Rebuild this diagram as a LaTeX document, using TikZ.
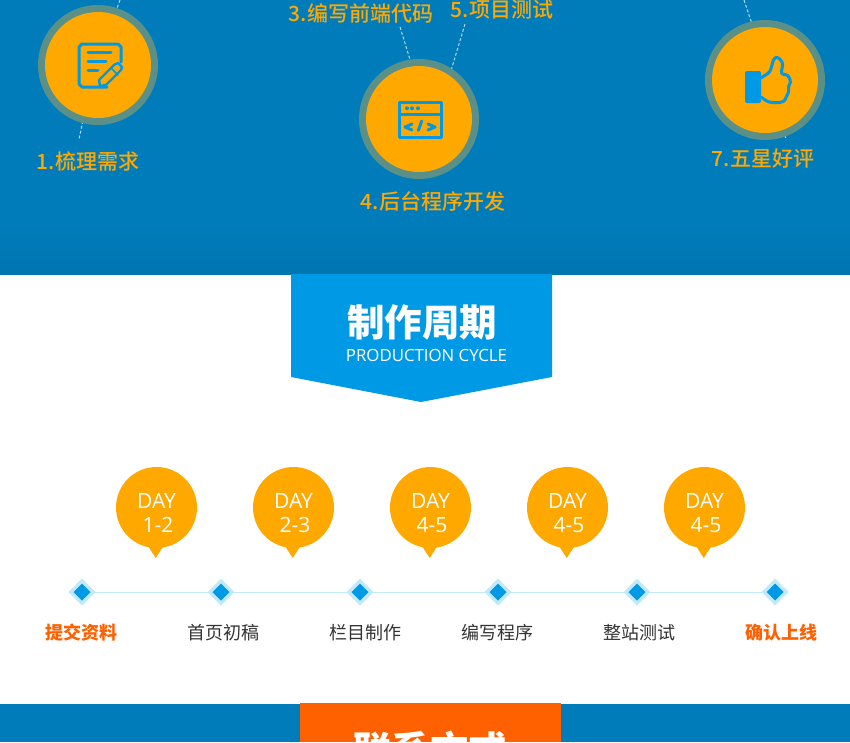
\documentclass[tikz,border=0pt]{standalone}
\usepackage{fontspec}
\setmainfont{Noto Sans CJK SC}
\newfontfamily\latinfont{Open Sans}
\newfontfamily\mediumfont{Noto Sans CJK SC Medium}
\usetikzlibrary{calc}

\definecolor{bandblue}{HTML}{007CBA}
\definecolor{banddark}{HTML}{0076B0}
\definecolor{skyblue}{HTML}{0099E5}
\definecolor{amber}{HTML}{FFA800}
\definecolor{ringgray}{HTML}{5A9088}
\definecolor{paleblue}{HTML}{C0EAFB}
\definecolor{deeporange}{HTML}{FF6000}

\tikzset{
    steplabel/.style={text=amber, font=\mediumfont\fontsize{21}{21}\selectfont},
    guide/.style={white!70!bandblue, densely dashed, line width=1pt},
    icon/.style={skyblue, line width=3pt, line cap=round, line join=round},
    daytext/.style={text=white, font=\latinfont\fontsize{21}{21}\selectfont},
    tasklabel/.style={text=black!80, font=\fontsize{18}{18}\selectfont},
    tasklabelbold/.style={text=deeporange, font=\bfseries\fontsize{18}{18}\selectfont}
}

\begin{document}
\begin{tikzpicture}[x=1pt,y=-1pt]
    \useasboundingbox (0,0) rectangle (850,742);
    \clip (0,0) rectangle (850,742);

    % Coordinates of the circles
    \coordinate (C1) at (98,65);
    \coordinate (C4) at (419,119);
    \coordinate (C7) at (765,80);

    % Bands
    \fill[white] (0,0) rectangle (850,742);
    \fill[bandblue] (0,0) rectangle (850,225);
    \shade[top color=bandblue, bottom color=banddark] (0,225) rectangle (850,274);
    \fill[bandblue] (0,704) rectangle (850,742);

    % Dashed guides
    \coordinate (G1a) at (120,0);
    \coordinate (G1b) at (115,14);
    \coordinate (G1c) at (84,116);
    \coordinate (G1d) at (79,139);
    \coordinate (G3a) at (400,27);
    \coordinate (G3b) at (412,66);
    \coordinate (G5a) at (465,24);
    \coordinate (G5b) at (450,74);
    \coordinate (G7a) at (744,0);
    \coordinate (G7b) at (753,27);
    \coordinate (G7c) at (784,130);
    \coordinate (G7d) at (786,140);
    \draw[guide] (G1a) -- (G1b);
    \draw[guide] (G1c) -- (G1d);
    \draw[guide] (G3a) -- (G3b);
    \draw[guide] (G5a) -- (G5b);
    \draw[guide] (G7a) -- (G7b);
    \draw[guide] (G7c) -- (G7d);

    % Circles
    \foreach \c in {C1,C4,C7} {
        \fill[ringgray] (\c) circle (60);
        \fill[amber] (\c) circle (53);
    }

    % Icon: sheet and pencil
    \draw[icon] (107,87) -- (82,87) -- (79,84) -- (79,47) -- (82,44) -- (118,44) -- (121,47) -- (121,62);
    \draw[icon] (88,52) -- (111,52);
    \draw[icon] (88,61) -- (106,61);
    \draw[icon] (88,70) -- (98,70);
    \draw[icon, line width=2.4pt] (100,86) -- (99,80) -- (114,65) -- (118,63) -- (122,67) -- (121,70) -- (106,85) -- cycle;
    \draw[icon, line width=1.6pt] (111,68) -- (118,75);

    % Icon: browser window
    \draw[icon, line cap=butt] (399.5,102.5) rectangle (441,137);
    \draw[icon, line cap=butt] (399.5,114.5) -- (441,114.5);
    \foreach \x in {407,412,418} {
        \fill[skyblue] (\x,108.3) circle (2);
    }
    \draw[icon] (412,124) -- (405,127) -- (412,130);
    \draw[icon] (421.7,121) -- (418.3,130.5);
    \draw[icon] (428,124) -- (435,127) -- (428,130);

    % Icon: thumb
    \fill[skyblue, rounded corners=2pt] (745,71) rectangle (761,103);
    \draw[icon, rounded corners=2.5pt] (761,78) -- (770,72) -- (774,58) -- (778,57) -- (783,63) -- (781,74)
        -- (788,75) -- (791,82) -- (788,87) -- (789,92) -- (786,97) -- (785,101) -- (778,103) -- (768,102) -- (761,97);

    % Step labels
    \node[steplabel] (step1) at (88,161) {1.梳理需求};
    \node[steplabel] (step3) at (361,13) {3.编写前端代码};
    \node[steplabel] (step5) at (502,10) {5.项目测试};
    \node[steplabel] (step4) at (433,201) {4.后台程序开发};
    \node[steplabel] (step7) at (763,159) {7.五星好评};

    % Title banner
    \fill[skyblue] (291,274) -- (552,274) -- (552,377) -- (421,402) -- (291,377) -- cycle;
    \node[text=white, font=\bfseries\fontsize{37.5}{37.5}\selectfont] (title) at (422,322) {制作周期};
    \node[text=white, font=\latinfont\fontsize{16.8}{16.8}\selectfont] (subtitle) at (426.5,355) {PRODUCTION CYCLE};

    % Day bubbles
    \foreach \x/\d in {156.5/1-2,293.5/2-3,430.5/4-5,567.5/4-5,704.5/4-5} {
        \fill[amber] (\x,507.5) circle (40.5);
        \fill[amber] (\x-8.5,546) -- (\x+7,546) -- (\x-0.8,558) -- cycle;
        \node[daytext] at (\x,501) {DAY};
        \node[daytext] at (\x+1.5,525) {\d};
    }

    % Time line
    \coordinate (T1) at (82,592);
    \coordinate (T2) at (221,592);
    \coordinate (T3) at (360,592);
    \coordinate (T4) at (498,592);
    \coordinate (T5) at (637,592);
    \coordinate (T6) at (775,592);
    \draw[paleblue, line width=1pt] (T1) -- (T6);
    \foreach \p in {T1,T2,T3,T4,T5,T6} {
        \fill[paleblue] ($(\p)+(-13.5,0)$) -- ($(\p)+(0,-13.5)$) -- ($(\p)+(13.5,0)$) -- ($(\p)+(0,13.5)$) -- cycle;
        \fill[skyblue] ($(\p)+(-8.5,0)$) -- ($(\p)+(0,-8.5)$) -- ($(\p)+(8.5,0)$) -- ($(\p)+(0,8.5)$) -- cycle;
    }

    % Task labels
    \node[tasklabelbold] (task1) at (81,633) {提交资料};
    \node[tasklabel] (task2) at (223,633) {首页初稿};
    \node[tasklabel] (task3) at (365,633) {栏目制作};
    \node[tasklabel] (task4) at (497,633) {编写程序};
    \node[tasklabel] (task5) at (639,633) {整站测试};
    \node[tasklabelbold] (task6) at (781,633) {确认上线};

    % Contact tab
    \fill[deeporange] (300,703) rectangle (561,742);
    \node[text=white, font=\bfseries\fontsize{38.5}{38.5}\selectfont] (contact) at (430,750) {联系方式};
\end{tikzpicture}
\end{document}
